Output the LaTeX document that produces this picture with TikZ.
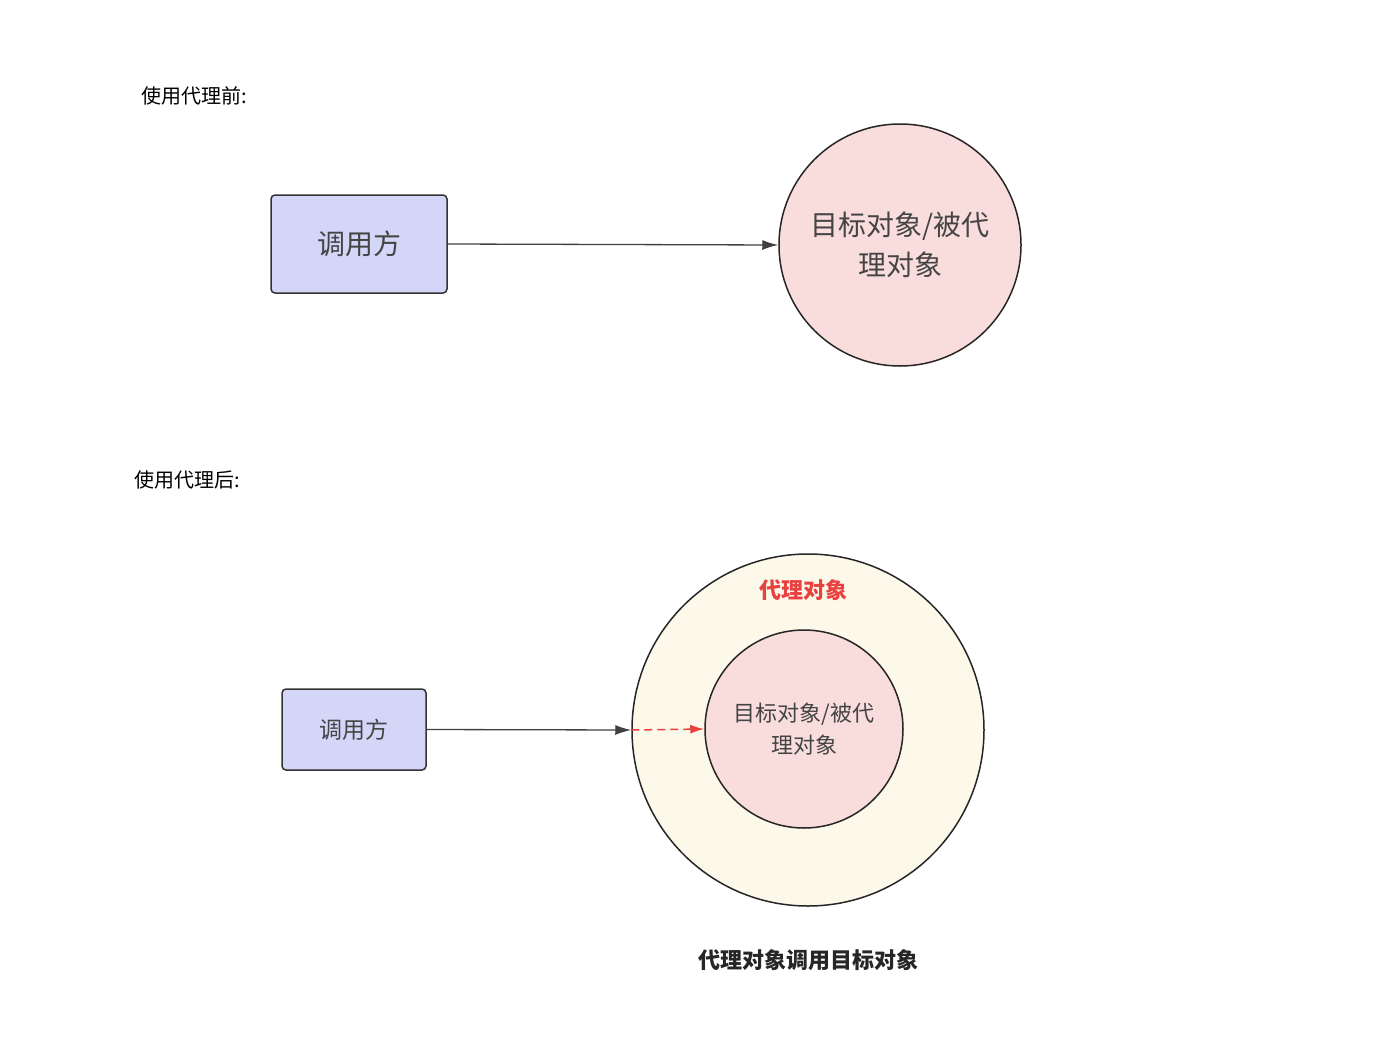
\documentclass[tikz,border=0pt]{standalone}
\usepackage{fontspec}
\setmainfont{Noto Sans CJK SC}
\usetikzlibrary{arrows.meta}
\definecolor{boxfill}{HTML}{D4D6F8}
\definecolor{pinkfill}{HTML}{F9DCDC}
\definecolor{creamfill}{HTML}{FCF8EA}
\definecolor{txt}{HTML}{444444}
\definecolor{redtxt}{HTML}{E8413F}
\tikzset{
  callerbox/.style={draw=black!80, line width=1.5pt, rounded corners=4pt, fill=boxfill, text=txt},
  circ/.style={draw=black!85, line width=1.5pt, circle, inner sep=0pt},
  conn/.style={-{Latex[length=16pt,width=10pt]}, line width=1.3pt, draw=black!75},
}
\begin{document}
\begin{tikzpicture}[x=1pt,y=-1pt]
\useasboundingbox (0,0) rectangle (1392,1036);
\node[anchor=west, font=\fontsize{20}{24}\selectfont] (t1) at (138,96) {使用代理前:};
\node[callerbox, minimum width=176pt, minimum height=98pt, font=\fontsize{28}{32}\selectfont] (b1) at (359,244) {调用方};
\node[circ, fill=pinkfill, minimum size=242pt, text=txt, align=center, font=\fontsize{28}{40}\selectfont] (c1) at (900,245) {目标对象/被代\\理对象};
\draw[conn] (b1.east) -- (c1.west);

\node[anchor=west, font=\fontsize{20}{24}\selectfont] (t2) at (131,480) {使用代理后:};
\node[callerbox, minimum width=144pt, minimum height=81pt, font=\fontsize{23}{28}\selectfont] (b2) at (354,729.5) {调用方};
\node[circ, fill=creamfill, minimum size=352pt] (c2) at (808,730) {};
\node[circ, fill=pinkfill, minimum size=198pt, text=txt, align=center, font=\fontsize{22}{32}\selectfont] (c3) at (804,729) {目标对象/被代\\理对象};
\node[text=redtxt, font=\bfseries\fontsize{22}{26}\selectfont] (lbl) at (803,590) {代理对象};
\draw[conn] (b2.east) -- (c2.west);
\draw[-{Latex[length=14pt,width=9pt]}, dashed, dash pattern=on 8pt off 5pt, line width=1.5pt, draw=redtxt] (c2.west) -- (c3.west);
\node[font=\bfseries\fontsize{22}{26}\selectfont, text=black!85] (cap) at (808,960) {代理对象调用目标对象};
\end{tikzpicture}
\end{document}
